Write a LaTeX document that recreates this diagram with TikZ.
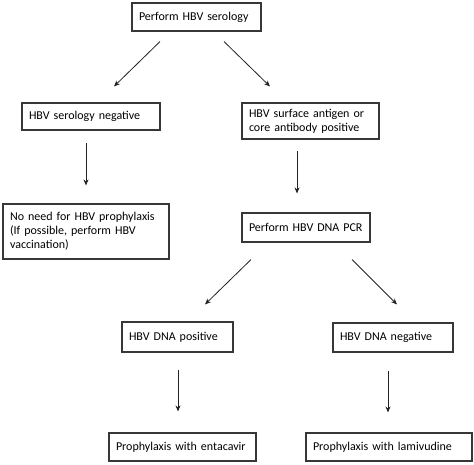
\documentclass[tikz,border=0pt]{standalone}
\usepackage{fontspec}
\setmainfont{Carlito}
\usepackage{xcolor}
\usetikzlibrary{arrows.meta,positioning,calc}
\definecolor{boxline}{RGB}{55,55,55}
\definecolor{arrowline}{RGB}{35,35,35}

\begin{document}
\begin{tikzpicture}[
    x=1pt, y=-1pt,
    box/.style={rectangle, draw=boxline, line width=1.1pt, inner xsep=7pt, inner ysep=0pt, align=left, font=\fontsize{12}{14}\selectfont},
    arrow/.style={-{Stealth[length=6pt, width=5pt]}, line width=0.8pt, draw=arrowline}
]
\useasboundingbox (0,0) rectangle (474,465);

% First test
\node[box, text width=115pt, minimum height=28pt] (serology) at (196.5, 17) {Perform HBV serology};

% Serology results
\node[box, text width=124pt, minimum height=27pt] (serneg) at (91, 116.5) {HBV serology negative};
\node[box, text width=123pt, minimum height=36pt] (serpos) at (310.5, 121) {HBV surface antigen or\\core antibody positive};

% No prophylaxis
\node[box, text width=152pt, minimum height=55pt] (noneed) at (86, 231.5) {No need for HBV prophylaxis\\(If possible, perform HBV\\vaccination)};

% PCR
\node[box, text width=114pt, minimum height=29pt] (pcr) at (306, 227.5) {Perform HBV DNA PCR};

% PCR results
\node[box, text width=97pt, minimum height=30pt] (dnapos) at (177.5, 337) {HBV DNA positive};
\node[box, text width=106pt, minimum height=29pt] (dnaneg) at (393, 337.5) {HBV DNA negative};

% Prophylaxis
\node[box, text width=133pt, minimum height=28pt] (entac) at (182.5, 447) {Prophylaxis with entacavir};
\node[box, text width=152pt, minimum height=28pt] (lamiv) at (389, 447) {Prophylaxis with  lamivudine};

% Arrows
\draw[arrow] ([xshift=-36.5pt, yshift=-10pt]serology.south) -- ([xshift=23pt, yshift=16pt]serneg.north);
\draw[arrow] ([xshift=27.5pt, yshift=-10pt]serology.south) -- ([xshift=-40.5pt, yshift=16pt]serpos.north);
\draw[arrow] ([yshift=-12pt]serneg.south -| noneed.north) -- ([yshift=18pt]noneed.north);
\draw[arrow] ([xshift=-13.5pt, yshift=-11pt]serpos.south) -- ([xshift=-9pt, yshift=19pt]pcr.north);
\draw[arrow] ([xshift=-55pt, yshift=-17pt]pcr.south) -- ([xshift=27.5pt, yshift=17pt]dnapos.north);
\draw[arrow] ([xshift=46pt, yshift=-17pt]pcr.south) -- ([xshift=4pt, yshift=18pt]dnaneg.north);
\draw[arrow] ([xshift=0.5pt, yshift=-17pt]dnapos.south) -- ([xshift=-4.5pt, yshift=21pt]entac.north);
\draw[arrow] ([xshift=-5pt, yshift=-18pt]dnaneg.south) -- ([xshift=-1pt, yshift=20pt]lamiv.north);

\end{tikzpicture}
\end{document}
